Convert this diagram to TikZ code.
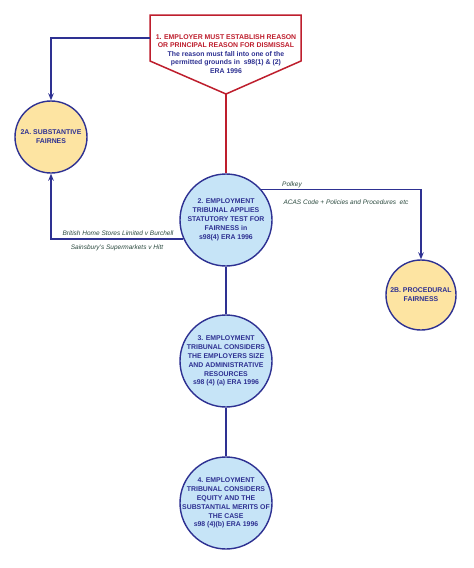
\documentclass[tikz,border=0pt]{standalone}
\usepackage{fontspec}
\setmainfont{Liberation Sans}
\usetikzlibrary{arrows.meta}
\definecolor{dblue}{HTML}{2E3192}
\definecolor{dred}{HTML}{BE1E2D}
\definecolor{lblue}{HTML}{C6E4F7}
\definecolor{lyel}{HTML}{FDE4A2}
\definecolor{lbl}{HTML}{2B4A3F}
\begin{document}
\begin{tikzpicture}[x=1pt,y=-1pt,
  ctext/.style={align=center,text=dblue,inner sep=0pt,font=\fontsize{6.9}{8.9}\selectfont\bfseries},
  circ/.style={circle,draw=dblue,line width=1.4pt,fill=lblue,minimum size=92pt,inner sep=0pt},
  ycirc/.style={circ,fill=lyel,minimum size=72pt},
  conn/.style={draw=dblue,line width=1.4pt},
  tip/.style={-{Stealth[length=7pt,width=5.5pt]}},
  lab/.style={text=lbl,font=\fontsize{6.5}{8}\selectfont\itshape,inner sep=1pt}]
\useasboundingbox (0,0) rectangle (474,568);
\fill[white] (0,0) rectangle (474,568);
% pentagon
\draw[dred,line width=1.5pt,fill=white] (150,15) -- (301,15) -- (301,61) -- (226,94) -- (150,61) -- cycle;
\coordinate (ptip) at (226,94);
\coordinate (pleft) at (150,38);
\node[align=center,font=\fontsize{6.9}{8.5}\selectfont\bfseries] (t1) at (226,54)
  {\textcolor{dred}{1. EMPLOYER MUST ESTABLISH REASON}\\
   \textcolor{dred}{OR PRINCIPAL REASON FOR DISMISSAL}\\
   \textcolor{dblue}{The reason must fall into one of the}\\
   \textcolor{dblue}{permitted grounds in \ s98(1) \& (2)}\\
   \textcolor{dblue}{ERA 1996}};
% circles
\node[ycirc,label={[ctext,name=t2a]center:2A. SUBSTANTIVE\\FAIRNES}] (c2a) at (51,137) {};
\node[circ,label={[ctext,name=t2]center:2. EMPLOYMENT\\TRIBUNAL APPLIES\\STATUTORY TEST FOR\\FAIRNESS in\\s98(4) ERA 1996}] (c2) at (226,220) {};
\node[ycirc,minimum size=70pt,label={[ctext,name=t2b]center:2B. PROCEDURAL\\FAIRNESS}] (c2b) at (421,295) {};
\node[circ,label={[ctext,name=t3]center:3. EMPLOYMENT\\TRIBUNAL CONSIDERS\\THE EMPLOYERS SIZE\\AND ADMINISTRATIVE\\RESOURCES\\s98 (4) (a) ERA 1996}] (c3) at (226,361) {};
\node[circ,label={[ctext,name=t4]center:4. EMPLOYMENT\\TRIBUNAL CONSIDERS\\EQUITY AND THE\\SUBSTANTIAL MERITS OF\\THE CASE\\s98 (4)(b) ERA 1996}] (c4) at (226,503) {};
% connectors
\draw[dred,line width=1.4pt] (ptip) -- (c2);
\draw[conn,tip] (pleft) -| (c2a);
\draw[conn,tip] (c2.204) -| (c2a);
\draw[conn,tip] (c2.41) -| (c2b);
\draw[conn] (c2) -- (c3);
\draw[conn] (c3) -- (c4);
% labels
\node[lab] (l1) at (292,185) {Polkey};
\node[lab] (l2) at (346,202) {ACAS Code + Policies and Procedures \ etc};
\node[lab] (l3) at (118,233) {British Home Stores Limited v Burchell};
\node[lab] (l4) at (117,248) {Sainsbury's Supermarkets v Hitt};
\end{tikzpicture}
\end{document}
